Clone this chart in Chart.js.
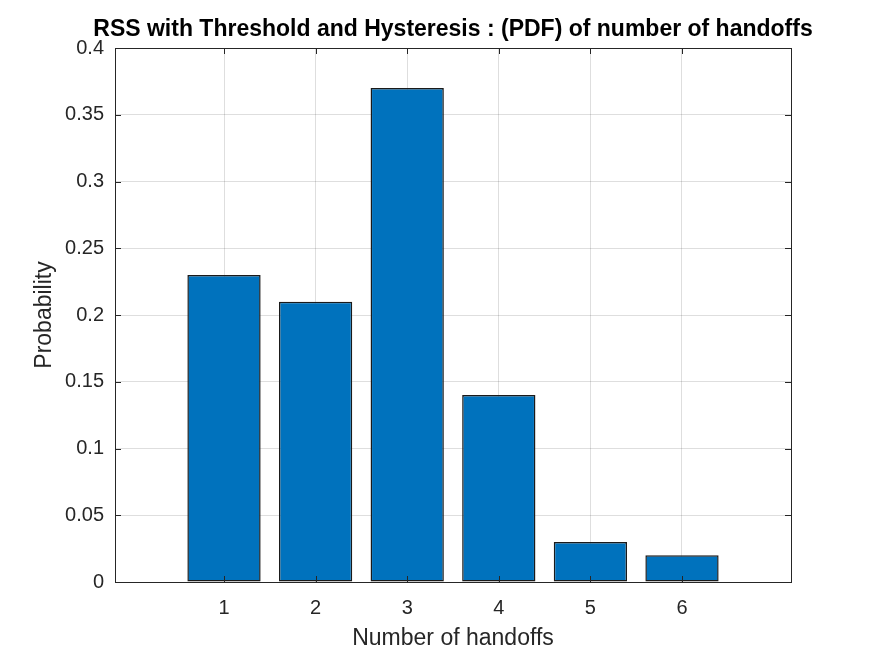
<!DOCTYPE html>
<html>
<head>
<meta charset="utf-8">
<script src="https://cdn.jsdelivr.net/npm/chart.js@4/dist/chart.umd.min.js"></script>
<style>
  html, body { margin: 0; padding: 0; background: #fff; }
  #wrap { width: 875px; height: 656px; position: relative; }
</style>
</head>
<body>
<div id="wrap"><canvas id="pdf_chart"></canvas></div>
<script>
// values
var handoffs = [1, 2, 3, 4, 5, 6];
var probability = [0.23, 0.21, 0.37, 0.14, 0.03, 0.02];
var xTicks = [1, 2, 3, 4, 5, 6];
var yTicks = [0, 0.05, 0.1, 0.15, 0.2, 0.25, 0.3, 0.35, 0.4];
var chartTitle = 'RSS with Threshold and Hysteresis : (PDF) of number of handoffs';

var axisColor = '#262626';
var gridColor = 'rgba(0,0,0,0.13)';
var fontName = '"Liberation Sans", Arial, Helvetica, sans-serif';

var points = [];
for (var i = 0; i < handoffs.length; i++) {
	points.push({x: handoffs[i], y: probability[i]});
}

// matlab style box round the axes, with the small inward ticks on all four sides
// title is drawn here too, centred on the axes like matlab does (chart.js title would squeeze it)
var boxPlugin = {
	id: 'matlabBox',
	afterDatasetsDraw: function(chart) {
		var ctx = chart.ctx;
		var a = chart.chartArea;
		var xs = chart.scales.x, ys = chart.scales.y;
		var len = 6;
		ctx.save();
		ctx.strokeStyle = axisColor;
		ctx.lineWidth = 1;
		ctx.beginPath();
		xs.ticks.forEach(function(t) {
			var px = Math.round(xs.getPixelForValue(t.value)) + 0.5;
			ctx.moveTo(px, a.bottom); ctx.lineTo(px, a.bottom - len);
			ctx.moveTo(px, a.top); ctx.lineTo(px, a.top + len);
		});
		ys.ticks.forEach(function(t) {
			var py = Math.round(ys.getPixelForValue(t.value)) + 0.5;
			ctx.moveTo(a.left, py); ctx.lineTo(a.left + len, py);
			ctx.moveTo(a.right, py); ctx.lineTo(a.right - len, py);
		});
		ctx.stroke();
		ctx.strokeRect(Math.round(a.left) + 0.5, Math.round(a.top) + 0.5,
			Math.round(a.right - a.left), Math.round(a.bottom - a.top));

		ctx.fillStyle = '#000';
		ctx.font = 'bold 23px ' + fontName;
		ctx.textAlign = 'center';
		ctx.textBaseline = 'middle';
		ctx.fillText(chartTitle, (a.left + a.right) / 2, 30);
		ctx.restore();
	}
};

var ctx = document.getElementById('pdf_chart').getContext('2d');
var pdfChart = new Chart(ctx, {
	type: 'bar',
	data: {
		datasets: [{
			data: points,
			backgroundColor: '#0072BD',
			borderColor: '#1a1a1a',
			borderWidth: 1.5,
			borderSkipped: false,
			barPercentage: 0.8,
			categoryPercentage: 1.0
		}]
	},
	options: {
		responsive: true,
		maintainAspectRatio: false,
		animation: false,
		layout: { padding: { left: 0, right: 84, top: 48, bottom: 0 } },
		plugins: {
			legend: { display: false },
			tooltip: { enabled: false },
			title: { display: false }
		},
		scales: {
			x: {
				type: 'linear',
				min: -0.19,
				max: 7.19,
				offset: false,
				afterBuildTicks: function(s) { s.ticks = xTicks.map(function(v) { return {value: v}; }); },
				afterFit: function(s) { s.height = 74; },
				grid: { offset: false, color: gridColor, drawTicks: false },
				border: { display: false },
				ticks: { color: axisColor, padding: 14, font: { family: fontName, size: 20 }, maxRotation: 0 },
				title: {
					display: true,
					text: 'Number of handoffs',
					color: axisColor,
					font: { family: fontName, size: 23 },
					padding: { top: 0, bottom: 4 }
				}
			},
			y: {
				min: 0,
				max: 0.4,
				afterBuildTicks: function(s) { s.ticks = yTicks.map(function(v) { return {value: v}; }); },
				afterFit: function(s) { s.width = 115; },
				grid: { color: gridColor, drawTicks: false },
				border: { display: false },
				ticks: {
					color: axisColor, padding: 11, font: { family: fontName, size: 20 },
					callback: function(v) { return String(v); }
				},
				title: {
					display: true,
					text: 'Probability',
					color: axisColor,
					font: { family: fontName, size: 23 },
					padding: { top: 31, bottom: 0 }
				}
			}
		}
	},
	plugins: [boxPlugin]
});
</script>
</body>
</html>
